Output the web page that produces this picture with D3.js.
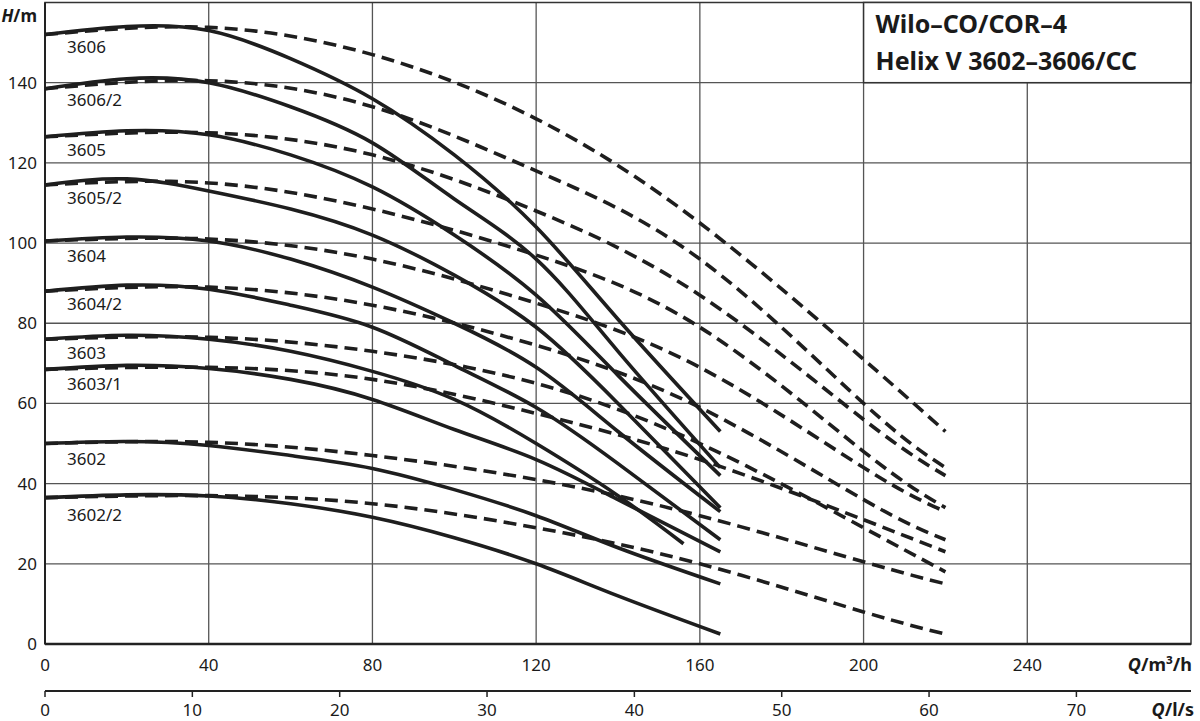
<!DOCTYPE html>
<html><head><meta charset="utf-8">
<script src="https://cdn.jsdelivr.net/npm/d3@7"></script>
<style>body{margin:0;background:#fff}text{font-family:"Noto Sans",sans-serif;fill:#1a1a1a}</style>
</head><body><svg id="c" width="1200" height="721"></svg>
<script>
const models = ["3606","3606/2","3605","3605/2","3604","3604/2","3603","3603/1","3602","3602/2"];
const solidQ = [0,20,40,60,80,100,120,140,165];
const solidH = [
 [152,154,153,146,136,122,104,81,53],
 [138.5,141,140,134,125,111,96,73,44],
 [126.5,128,127,122,114,102,87,67,42],
 [114.5,116,113,108.5,102,92,79,60,34],
 [100.5,101.5,100.5,96,89,80,69,53,33],
 [88,89.5,88.5,84.5,79,69.5,59,45,26],
 [76,77,76,73,68,61,50,37,25],
 [68.5,69.5,68.7,66,61,53.5,46,36,23],
 [50,50.5,49.5,47,43.8,38.5,32,24,15],
 [36.5,37.2,36.9,35,31.6,26.5,20,12,2.5]
];
const solidEnd = [165,165,165,165,165,165,156,165,165,165];
const dashQ = [0,40,80,120,160,200,220];
const dashH = [
 [152,153.8,147,131,105,71,53],
 [138.5,140.5,134,118,96,60,44],
 [126.5,127.5,122,108,87,56,42],
 [114.5,115,108.5,97,79,48,34],
 [100.5,101,96,85,69,44,33],
 [88,89,84.5,74.5,59,36,26],
 [76,76.5,73,65,50,29,18],
 [68.5,69,66,57.5,46,31,23],
 [50,50.3,47,41,32,20.5,15],
 [36.5,37,35,29,20,8,2.5]
];
const labelY = [47,100,150,198,256,304,353,384,459,515];
const xTicks = [0,40,80,120,160,200,240];
const xGrid = [40,80,120,160,200,240];
const yTicks = [0,20,40,60,80,100,120,140];
const lsTicks = [0,10,20,30,40,50,60,70];
const m3hPerLs = 3.6;

const svg = d3.select("#c");
const x = d3.scaleLinear().domain([0,280]).range([45,1191]);
const y = d3.scaleLinear().domain([0,160]).range([644,2.5]);
const xs = d3.scaleLinear().domain([0,280/m3hPerLs]).range([45,1191]);

const g = svg.append("g");
g.selectAll(".vg").data(xGrid).join("line").attr("x1",d=>x(d)).attr("x2",d=>x(d))
 .attr("y1",y(160)).attr("y2",y(0)).attr("stroke","#555").attr("stroke-width",1.3);
g.selectAll(".hg").data(yTicks.slice(1)).join("line").attr("y1",d=>y(d)).attr("y2",d=>y(d))
 .attr("x1",x(0)).attr("x2",x(280)).attr("stroke","#555").attr("stroke-width",1.3);
g.append("rect").attr("x",x(0)).attr("y",y(160)).attr("width",x(280)-x(0)).attr("height",y(0)-y(160))
 .attr("fill","none").attr("stroke","#333").attr("stroke-width",1.5);
g.append("line").attr("x1",x(0)).attr("x2",x(0)).attr("y1",y(160)).attr("y2",y(0)).attr("stroke","#222").attr("stroke-width",2);
g.append("line").attr("x1",x(0)).attr("x2",x(280)).attr("y1",y(0)).attr("y2",y(0)).attr("stroke","#222").attr("stroke-width",2.5);

g.append("rect").attr("x",x(200)).attr("y",y(160)).attr("width",x(280)-x(200)).attr("height",y(140)-y(160))
 .attr("fill","#fff").attr("stroke","#333").attr("stroke-width",1.5);
g.append("text").attr("x",x(200)+12).attr("y",33).attr("font-size",25).attr("font-weight","bold").text("Wilo–CO/COR–4");
g.append("text").attr("x",x(200)+12).attr("y",70).attr("font-size",25).attr("font-weight","bold").text("Helix V 3602–3606/CC");

const line = d3.line().x(d=>x(d[0])).y(d=>y(d[1])).curve(d3.curveNatural);
models.forEach((m,i)=>{
  const sp = solidQ.map((q,j)=>[j===solidQ.length-1?solidEnd[i]:q, solidH[i][j]]);
  const dp = dashQ.map((q,j)=>[q, dashH[i][j]]);
  g.append("path").attr("d",line(dp)).attr("fill","none").attr("stroke","#1e1e1e").attr("stroke-width",3.6).attr("stroke-dasharray","13,7");
  g.append("path").attr("d",line(sp)).attr("fill","none").attr("stroke","#1e1e1e").attr("stroke-width",3.6);
  g.append("text").attr("x",67).attr("y",labelY[i]+6).attr("font-size",17).text(m);
});

g.selectAll(".yt").data(yTicks).join("text").attr("x",37).attr("y",d=>y(d)+6).attr("text-anchor","end")
 .attr("font-size",17).text(d=>d);
const ht = g.append("text").attr("x",37).attr("y",22).attr("text-anchor","end").attr("font-size",17).attr("font-weight","bold");
ht.append("tspan").attr("font-style","italic").text("H");ht.append("tspan").text("/m");

g.selectAll(".xt").data(xTicks).join("text").attr("x",d=>x(d)).attr("y",671).attr("text-anchor","middle")
 .attr("font-size",17).text(d=>d);
const qt = g.append("text").attr("x",1192).attr("y",671).attr("text-anchor","end").attr("font-size",18).attr("font-weight","bold");
qt.append("tspan").attr("font-style","italic").text("Q");qt.append("tspan").text("/m³/h");

g.append("line").attr("x1",45).attr("x2",1191).attr("y1",691).attr("y2",691).attr("stroke","#222").attr("stroke-width",2);
g.selectAll(".lt").data(lsTicks).join("line").attr("x1",d=>xs(d)).attr("x2",d=>xs(d)).attr("y1",691).attr("y2",697)
 .attr("stroke","#222").attr("stroke-width",1.5);
g.selectAll(".ll").data(lsTicks).join("text").attr("x",d=>xs(d)).attr("y",716).attr("text-anchor","middle")
 .attr("font-size",17).text(d=>d);
const qs = g.append("text").attr("x",1194).attr("y",716).attr("text-anchor","end").attr("font-size",18).attr("font-weight","bold");
qs.append("tspan").attr("font-style","italic").text("Q");qs.append("tspan").text("/l/s");
</script></body></html>
